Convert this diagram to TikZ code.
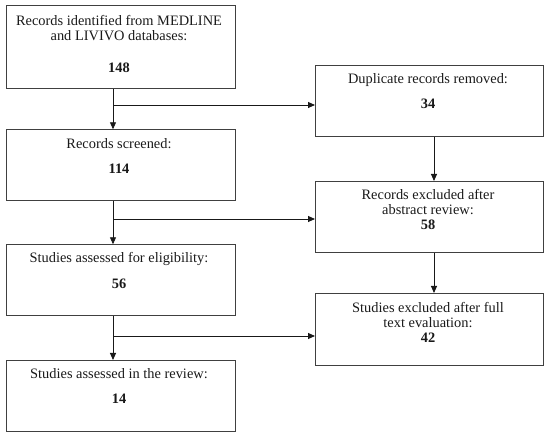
\documentclass[tikz,border=0pt]{standalone}
\usepackage{fontspec}
\setmainfont{Liberation Serif}
\usetikzlibrary{arrows.meta}
\begin{document}
\begin{tikzpicture}[x=1pt,y=-1pt,
  boxst/.style={draw=black!75,line width=1pt,inner sep=0pt,anchor=north west},
  txt/.style={inner sep=0pt,anchor=base,text=black!90,font=\fontsize{14.4}{15}\selectfont},
  arr/.style={draw=black!90,line width=0.9pt,-{Triangle[length=7pt,width=6pt]}},
  ln/.style={draw=black!85,line width=0.8pt}]
\useasboundingbox (0,0) rectangle (550,438);
% left boxes
\node[boxst,minimum width=229pt,minimum height=82.7pt] (b1) at (6,5.3) {};
\node[boxst,minimum width=229pt,minimum height=70.7pt] (b2) at (6,129.3) {};
\node[boxst,minimum width=229pt,minimum height=70.7pt] (b3) at (6,244.3) {};
\node[boxst,minimum width=229pt,minimum height=71pt] (b4) at (6,360) {};
% right boxes
\node[boxst,minimum width=228pt,minimum height=70.7pt] (r1) at (315,65) {};
\node[boxst,minimum width=228pt,minimum height=70.7pt] (r2) at (315,181) {};
\node[boxst,minimum width=228pt,minimum height=71.7pt] (r3) at (315,293) {};
% texts
\node[txt] (t1a) at (119,25.7) {Records identified from MEDLINE};
\node[txt] (t1b) at (119,40.7) {and LIVIVO databases:};
\node[txt] (t1c) at (119,73) {\textbf{148}};
\node[txt] (t2a) at (119,148.3) {Records screened:};
\node[txt] (t2b) at (119,173.3) {\textbf{114}};
\node[txt] (t3a) at (119,262.7) {Studies assessed for eligibility:};
\node[txt] (t3b) at (119,288.3) {\textbf{56}};
\node[txt] (t4a) at (119,378.3) {Studies assessed in the review:};
\node[txt] (t4b) at (119,403.3) {\textbf{14}};
\node[txt] (s1a) at (428,84) {Duplicate records removed:};
\node[txt] (s1b) at (428,108.3) {\textbf{34}};
\node[txt] (s2a) at (428,199.3) {Records excluded after};
\node[txt] (s2b) at (428,214.3) {abstract review:};
\node[txt] (s2c) at (428,229.3) {\textbf{58}};
\node[txt] (s3a) at (428,313) {Studies excluded after full};
\node[txt] (s3b) at (428,328) {text evaluation:};
\node[txt] (s3c) at (428,343) {\textbf{42}};
% branch coordinates
\coordinate (j1) at (113,105);
\coordinate (j2) at (113,219);
\coordinate (j3) at (113,336);
% vertical left arrows
\draw[arr] (b1.south -| j1) -- (b2.north -| j1);
\draw[arr] (b2.south -| j2) -- (b3.north -| j2);
\draw[arr] (b3.south -| j3) -- (b4.north -| j3);
% horizontal arrows
\draw[arr] (j1) -- (j1 -| r1.west);
\draw[arr] (j2) -- (j2 -| r2.west);
\draw[arr] (j3) -- (j3 -| r3.west);
% right vertical arrows
\coordinate (k) at (434,0);
\draw[arr] (r1.south -| k) -- (r2.north -| k);
\draw[arr] (r2.south -| k) -- (r3.north -| k);
\end{tikzpicture}
\end{document}
